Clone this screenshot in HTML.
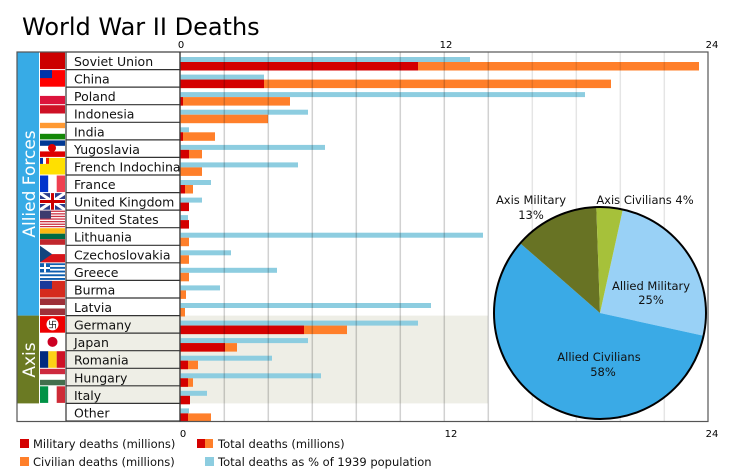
<!DOCTYPE html>
<html><head><meta charset="utf-8"><style>body{margin:0;background:#fff}svg{display:block}text{font-family:"DejaVu Sans","Liberation Sans",sans-serif}</style></head><body>
<svg width="730" height="475" viewBox="0 0 730 475" xmlns="http://www.w3.org/2000/svg">
<text x="22" y="35" font-size="24" fill="#000">World War II Deaths</text>
<g font-size="10" fill="#000" text-anchor="middle">
<text x="181" y="48">0</text><text x="446" y="48">12</text><text x="712" y="48">24</text>
<text x="183" y="437">0</text><text x="451" y="437">12</text><text x="712" y="437">24</text>
</g>
<rect x="66" y="315.6" width="422" height="87.8" fill="#eeeee6"/>
<rect x="17" y="52" width="22" height="263.6" fill="#37abe6"/>
<rect x="17" y="315.6" width="22" height="87.8" fill="#6b7a23"/>
<text transform="translate(35,184) rotate(-90)" font-size="17" fill="#fff" text-anchor="middle">Allied Forces</text>
<text transform="translate(35,360) rotate(-90)" font-size="17" fill="#fff" text-anchor="middle">Axis</text>
<g>
<rect x="40" y="52.5" width="25" height="16.6" fill="#cc0000"/>
<rect x="40" y="70.1" width="25" height="16.6" fill="#ff0000"/><rect x="40" y="70.1" width="12" height="8" fill="#0033aa"/>
<rect x="40" y="87.6" width="25" height="8.3" fill="#fff"/><rect x="40" y="95.9" width="25" height="8.3" fill="#dc143c"/>
<rect x="40" y="105.2" width="25" height="8.3" fill="#ce1126"/><rect x="40" y="113.5" width="25" height="8.3" fill="#fff"/>
<rect x="40" y="122.8" width="25" height="5.5" fill="#ff9933"/><rect x="40" y="128.3" width="25" height="5.5" fill="#fff"/><rect x="40" y="133.8" width="25" height="5.6" fill="#138808"/>
<rect x="40" y="140.4" width="25" height="5.5" fill="#003893"/><rect x="40" y="145.9" width="25" height="5.5" fill="#fff"/><rect x="40" y="151.4" width="25" height="5.5" fill="#de0000"/><circle cx="52" cy="148" r="4" fill="#de0000"/>
<rect x="40" y="157.9" width="25" height="16.6" fill="#ffe000"/><rect x="40" y="157.9" width="9" height="6" fill="#fff"/><rect x="40" y="157.9" width="3" height="6" fill="#0033aa"/><rect x="46" y="157.9" width="3" height="6" fill="#ee2200"/>
<rect x="40" y="175.5" width="8.3" height="16.6" fill="#0033cc"/><rect x="48.3" y="175.5" width="8.4" height="16.6" fill="#fff"/><rect x="56.7" y="175.5" width="8.3" height="16.6" fill="#ef4050"/>
<rect x="40" y="193.1" width="25" height="16.6" fill="#2a3c8a"/><path d="M40,193.1L65,209.7M65,193.1L40,209.7" stroke="#fff" stroke-width="3"/><rect x="50" y="193.1" width="5" height="16.6" fill="#fff"/><rect x="40" y="199" width="25" height="5" fill="#fff"/><rect x="51" y="193.1" width="3" height="16.6" fill="#cc0000"/><rect x="40" y="200" width="25" height="3" fill="#cc0000"/>
<rect x="40" y="210.6" width="25" height="16.6" fill="#fff"/><g fill="#cc3344"><rect x="40" y="210.6" width="25" height="1.3"/><rect x="40" y="213.2" width="25" height="1.3"/><rect x="40" y="215.8" width="25" height="1.3"/><rect x="40" y="218.4" width="25" height="1.3"/><rect x="40" y="221" width="25" height="1.3"/><rect x="40" y="223.6" width="25" height="1.3"/><rect x="40" y="226" width="25" height="1.2"/></g><rect x="40" y="210.6" width="11" height="8" fill="#3c3b6e"/>
<rect x="40" y="228.2" width="25" height="5.5" fill="#fdb913"/><rect x="40" y="233.7" width="25" height="5.5" fill="#006a44"/><rect x="40" y="239.2" width="25" height="5.6" fill="#c1272d"/>
<rect x="40" y="245.8" width="25" height="8.3" fill="#fff"/><rect x="40" y="254.1" width="25" height="8.3" fill="#d7141a"/><path d="M40,245.8L52,254.1L40,262.4Z" fill="#11457e"/>
<rect x="40" y="263.3" width="25" height="16.6" fill="#0d5eaf"/><g fill="#fff"><rect x="40" y="265.1" width="25" height="1.8"/><rect x="40" y="268.8" width="25" height="1.8"/><rect x="40" y="272.5" width="25" height="1.8"/><rect x="40" y="276.2" width="25" height="1.8"/></g><rect x="40" y="263.3" width="10" height="9" fill="#0d5eaf"/><rect x="44" y="263.3" width="2" height="9" fill="#fff"/><rect x="40" y="267" width="10" height="2" fill="#fff"/>
<rect x="40" y="280.9" width="25" height="16.6" fill="#d52b1e"/><rect x="40" y="280.9" width="12" height="8" fill="#1a3a9a"/>
<rect x="40" y="298.5" width="25" height="6.6" fill="#9e3039"/><rect x="40" y="305.1" width="25" height="3.4" fill="#fff"/><rect x="40" y="308.5" width="25" height="6.6" fill="#9e3039"/>
<rect x="40" y="316.1" width="25" height="16.6" fill="#ee0000"/><circle cx="52.5" cy="324.4" r="6" fill="#fff"/><text x="52.5" y="328" font-size="9" text-anchor="middle">卐</text>
<rect x="40" y="333.6" width="25" height="16.6" fill="#fff"/><circle cx="52.5" cy="341.9" r="5" fill="#cc0022"/>
<rect x="40" y="351.2" width="8.3" height="16.6" fill="#002b7f"/><rect x="48.3" y="351.2" width="8.4" height="16.6" fill="#fcd116"/><rect x="56.7" y="351.2" width="8.3" height="16.6" fill="#ce1126"/>
<rect x="40" y="368.8" width="25" height="5.5" fill="#cd2a3e"/><rect x="40" y="374.3" width="25" height="5.5" fill="#fff"/><rect x="40" y="379.8" width="25" height="5.5" fill="#436f4d"/>
<rect x="40" y="386.3" width="8.3" height="16.6" fill="#009246"/><rect x="48.3" y="386.3" width="8.4" height="16.6" fill="#fff"/><rect x="56.7" y="386.3" width="8.3" height="16.6" fill="#ce2b37"/>
</g>
<g fill="none" stroke="#333" stroke-width="1.2">
<rect x="66" y="52" width="114" height="369"/>
<path d="M66,69.6H180M66,87.1H180M66,104.7H180M66,122.3H180M66,139.9H180M66,157.4H180M66,175H180M66,192.6H180M66,210.1H180M66,227.7H180M66,245.3H180M66,262.8H180M66,280.4H180M66,298H180M66,315.6H180M66,333.1H180M66,350.7H180M66,368.3H180M66,385.8H180M66,403.4H180"/>
</g>
<g font-size="12.5" fill="#111">
<text x="74" y="66">Soviet Union</text><text x="74" y="83.6">China</text><text x="74" y="101.1">Poland</text><text x="74" y="118.7">Indonesia</text><text x="74" y="136.3">India</text><text x="74" y="153.9">Yugoslavia</text><text x="74" y="171.4">French Indochina</text><text x="74" y="189">France</text><text x="74" y="206.6">United Kingdom</text><text x="74" y="224.1">United States</text><text x="74" y="241.7">Lithuania</text><text x="74" y="259.3">Czechoslovakia</text><text x="74" y="276.8">Greece</text><text x="74" y="294.4">Burma</text><text x="74" y="312">Latvia</text><text x="74" y="329.6">Germany</text><text x="74" y="347.1">Japan</text><text x="74" y="364.7">Romania</text><text x="74" y="382.3">Hungary</text><text x="74" y="399.8">Italy</text><text x="74" y="417.4">Other</text>
</g>
<g fill="#8dcde0">
<rect x="180" y="57" width="290" height="5"/><rect x="180" y="74.6" width="84" height="5"/><rect x="180" y="92.1" width="405" height="5"/><rect x="180" y="109.7" width="128" height="5"/><rect x="180" y="127.3" width="9" height="5"/><rect x="180" y="144.9" width="145" height="5"/><rect x="180" y="162.4" width="118" height="5"/><rect x="180" y="180" width="31" height="5"/><rect x="180" y="197.6" width="22" height="5"/><rect x="180" y="215.1" width="8" height="5"/><rect x="180" y="232.7" width="303" height="5"/><rect x="180" y="250.3" width="51" height="5"/><rect x="180" y="267.8" width="97" height="5"/><rect x="180" y="285.4" width="40" height="5"/><rect x="180" y="303" width="251" height="5"/><rect x="180" y="320.6" width="238" height="5"/><rect x="180" y="338.1" width="128" height="5"/><rect x="180" y="355.7" width="92" height="5"/><rect x="180" y="373.3" width="141" height="5"/><rect x="180" y="390.8" width="27" height="5"/><rect x="180" y="408.4" width="9" height="5"/>
</g>
<g fill="#ff7f2a">
<rect x="180" y="62" width="519" height="8.5"/><rect x="180" y="79.6" width="431" height="8.5"/><rect x="180" y="97.1" width="110" height="8.5"/><rect x="180" y="114.7" width="88" height="8.5"/><rect x="180" y="132.3" width="35" height="8.5"/><rect x="180" y="149.9" width="22" height="8.5"/><rect x="180" y="167.4" width="22" height="8.5"/><rect x="180" y="185" width="13" height="8.5"/><rect x="180" y="237.7" width="9" height="8.5"/><rect x="180" y="255.3" width="9" height="8.5"/><rect x="180" y="272.8" width="9" height="8.5"/><rect x="180" y="290.4" width="6" height="8.5"/><rect x="180" y="308" width="5" height="8.5"/><rect x="180" y="325.6" width="167" height="8.5"/><rect x="180" y="343.1" width="57" height="8.5"/><rect x="180" y="360.7" width="18" height="8.5"/><rect x="180" y="378.3" width="13" height="8.5"/><rect x="180" y="413.4" width="31" height="8"/>
</g>
<g fill="#d40000">
<rect x="180" y="62" width="238" height="8.5"/><rect x="180" y="79.6" width="84" height="8.5"/><rect x="180" y="97.1" width="3" height="8.5"/><rect x="180" y="132.3" width="3" height="8.5"/><rect x="180" y="149.9" width="9" height="8.5"/><rect x="180" y="185" width="5" height="8.5"/><rect x="180" y="202.6" width="9" height="8.5"/><rect x="180" y="220.1" width="9" height="8.5"/><rect x="180" y="325.6" width="124" height="8.5"/><rect x="180" y="343.1" width="45" height="8.5"/><rect x="180" y="360.7" width="8" height="8.5"/><rect x="180" y="378.3" width="8" height="8.5"/><rect x="180" y="395.8" width="10" height="8.5"/><rect x="180" y="413.4" width="8" height="8"/>
</g>
<g stroke="#000" stroke-opacity="0.18" stroke-width="1.5">
<path d="M224.3,52V421M268.3,52V421M312.3,52V421M356.3,52V421M400.3,52V421M444.3,52V421M488.3,52V421"/>
</g>
<g stroke="#000" stroke-opacity="0.1" stroke-width="1.5"><path d="M532.3,52V421M576.3,52V421M620.3,52V421M664.3,52V421"/></g>
<rect x="17" y="52" width="691" height="369.5" fill="none" stroke="#555" stroke-width="1.2"/>
<line x1="180" y1="52" x2="180" y2="421.5" stroke="#333" stroke-width="1.2"/>
<path d="M600,313L622.8,209.5A106,106 0 0 1 703.5,335.8Z" fill="#99d1f6"/>
<path d="M600,313L703.5,335.8A106,106 0 1 1 520.2,243.2Z" fill="#3aaae6"/>
<path d="M600,313L520.2,243.2A106,106 0 0 1 596.3,207.1Z" fill="#687324"/>
<path d="M600,313L596.3,207.1A106,106 0 0 1 622.8,209.5Z" fill="#a6c13a"/>
<circle cx="600" cy="313" r="106" fill="none" stroke="#000" stroke-width="2"/>
<g font-size="11.5" fill="#111" text-anchor="middle">
<text x="531" y="204">Axis Military</text><text x="531" y="219">13%</text>
<text x="645" y="204">Axis Civilians 4%</text>
<text x="651" y="290">Allied Military</text><text x="651" y="304">25%</text>
<text x="599" y="361">Allied Civilians</text><text x="603" y="376">58%</text>
</g>
<rect x="20" y="439" width="9" height="9" fill="#d40000"/>
<rect x="197" y="439" width="8" height="9" fill="#d40000"/><rect x="205" y="439" width="8" height="9" fill="#ff7f2a"/>
<rect x="20" y="457" width="9" height="9" fill="#ff7f2a"/>
<rect x="205" y="457" width="9" height="9" fill="#8dcde0"/>
<g font-size="11.5" fill="#111">
<text x="33" y="448">Military deaths (millions)</text>
<text x="218" y="448">Total deaths (millions)</text>
<text x="33" y="466">Civilian deaths (millions)</text>
<text x="218" y="466">Total deaths as % of 1939 population</text>
</g>
</svg>
</body></html>
